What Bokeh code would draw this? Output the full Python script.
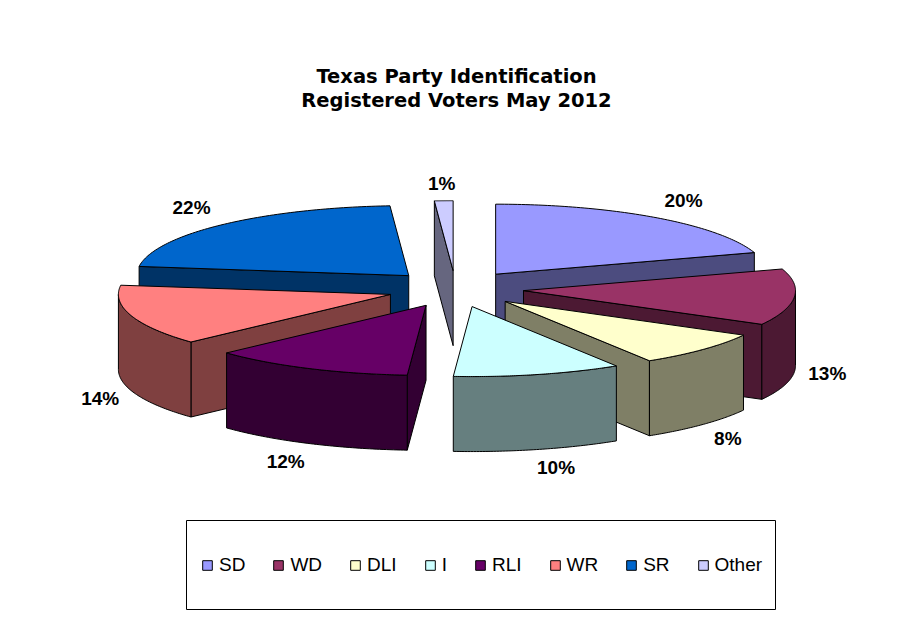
import numpy as np
from bokeh.embed import file_html
from bokeh.resources import INLINE
from bokeh.plotting import figure
from bokeh.models import Range1d, Legend, LegendItem, BoxAnnotation, ColumnDataSource
from bokeh.core.properties import value

categories = ["SD", "WD", "DLI", "I", "RLI", "WR", "SR", "Other"]
shares = [20.0, 13.0, 8.1, 10.0, 12.0, 14.0, 21.8, 1.1]
colors = ["#9999FF", "#993366", "#FFFFCC", "#CCFFFF", "#660066", "#FF8080", "#0066CC", "#CCCCFF"]
title_lines = ["Texas Party Identification", "Registered Voters May 2012"]

# projection of the tilted pie (layout, in page pixels)
CX, CY = 455.0, 288.4
RX, RY = 272.0, 70.0
EX, EY = 68.3, 18.2
DEPTH = 75.0
LABEL_OFFSET = {"SD": (28, -17), "WD": (33, 76), "DLI": (25, 89), "I": (18, 93),
                "RLI": (-23, 93), "WR": (-31, 83), "SR": (-31, -17), "Other": (-2, -17)}


def darker(c):
    r, g, b = int(c[1:3], 16), int(c[3:5], 16), int(c[5:7], 16)
    return "#%02X%02X%02X" % (r // 2, g // 2, b // 2)


p = figure(width=903, height=613, output_backend="svg", toolbar_location=None,
           x_range=Range1d(0, 903), y_range=Range1d(613, 0),
           x_axis_type=None, y_axis_type=None, min_border=0, outline_line_color=None)
p.grid.visible = False

edges = np.cumsum([0] + shares) / sum(shares) * 360.0
slices = []
for i, name in enumerate(categories):
    a0, a1 = edges[i], edges[i + 1]
    mid = np.radians((a0 + a1) / 2)
    ax, ay = CX + EX * np.sin(mid), CY - EY * np.cos(mid)
    slices.append(dict(i=i, name=name, a0=a0, a1=a1, mid=mid, ax=ax, ay=ay, color=colors[i]))


def rim(s, deg):
    t = np.radians(deg)
    return s["ax"] + RX * np.sin(t), s["ay"] - RY * np.cos(t)


def poly(xs, ys, color):
    return p.patch(list(xs), list(ys), fill_color=color, line_color="black", line_width=1)


top_renderers = {}
for s in sorted(slices, key=lambda d: -np.cos(d["mid"])):
    wall = darker(s["color"])
    ax, ay = s["ax"], s["ay"]
    # cut faces that look toward the viewer
    for deg, visible in ((s["a0"], np.sin(np.radians(s["a0"])) < -1e-6),
                         (s["a1"], np.sin(np.radians(s["a1"])) > 1e-6)):
        if visible:
            ex, ey = rim(s, deg)
            poly([ax, ex, ex, ax], [ay, ey, ey + DEPTH, ay + DEPTH], wall)
    # curved outer wall
    lo, hi = max(s["a0"], 90.0), min(s["a1"], 270.0)
    if lo < hi:
        arc = np.linspace(lo, hi, 60)
        wx, wy = rim(s, arc)
        poly(np.r_[wx, wx[::-1]], np.r_[wy, wy[::-1] + DEPTH], wall)
    # top face
    arc = np.linspace(s["a0"], s["a1"], 80)
    tx, ty = rim(s, arc)
    top_renderers[s["name"]] = poly(np.r_[ax, tx], np.r_[ay, ty], s["color"])

# data labels
lx, ly, lt = [], [], []
for s, v in zip(slices, shares):
    ex, ey = rim(s, (s["a0"] + s["a1"]) / 2)
    dx, dy = LABEL_OFFSET[s["name"]]
    lx.append(ex + dx); ly.append(ey + dy); lt.append(f"{round(v)}%")
p.text(x="x", y="y", text="t", source=ColumnDataSource(dict(x=lx, y=ly, t=lt)),
       text_font=value("Liberation Sans"), text_font_style="bold", text_font_size="19px",
       text_align="center", text_baseline="middle", text_color="black")

# title
p.text(x=[456, 456], y=[76, 100], text=title_lines,
       text_font=value("DejaVu Sans"), text_font_style="bold", text_font_size="19.5px",
       text_align="center", text_baseline="middle", text_color="black")

# legend
p.add_layout(BoxAnnotation(left=186, right=775, top=520, bottom=609, fill_alpha=0,
                           line_color="black", line_width=1, line_alpha=1))
legend = Legend(items=[LegendItem(label=n, renderers=[top_renderers[n]]) for n in categories],
                orientation="horizontal", location=(201, 37),
                border_line_color=None, background_fill_alpha=0, padding=0, margin=0,
                spacing=27, label_standoff=6, glyph_width=12, glyph_height=12,
                label_text_font="Liberation Sans", label_text_font_size="19px",
                label_text_color="black", label_height=20, label_width=0)
p.add_layout(legend, "center")

open("out.html", "w").write(file_html(p, INLINE))
